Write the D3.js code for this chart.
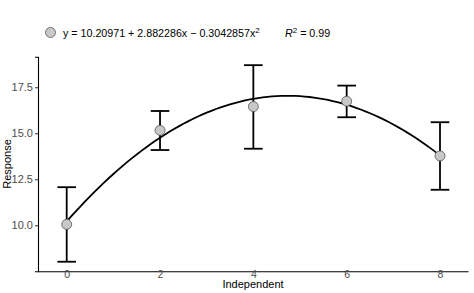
<!DOCTYPE html>
<html><head><meta charset="utf-8">
<script src="https://cdn.jsdelivr.net/npm/d3@7"></script>
<style>body{margin:0;background:#fff}svg{display:block}text{font-family:"Liberation Sans",Arial,sans-serif}</style>
</head><body><svg id="c" width="474" height="293"></svg>
<script>
const xs = [0, 2, 4, 6, 8];
const means = [10.05, 15.16, 16.45, 16.74, 13.77];
const lower = [8.02, 14.09, 14.16, 15.87, 11.93];
const upper = [12.07, 16.21, 18.7, 17.59, 15.6];
const coefs = [10.20971, 2.882286, -0.3042857];
const yTicks = [10.0, 12.5, 15.0, 17.5];
const xTicks = [0, 2, 4, 6, 8];

const svg = d3.select("#c");
const x = d3.scaleLinear().domain([-0.615, 8.6]).range([38, 468]);
const y = d3.scaleLinear().domain([7.5, 19.16]).range([271.3, 56.7]);

// axes
const ya = svg.append("g").attr("transform","translate(38,0)")
  .call(d3.axisLeft(y).tickValues(yTicks).tickFormat(d3.format(".1f")).tickSize(3).tickPadding(2));
const xa = svg.append("g").attr("transform","translate(0,271.3)")
  .call(d3.axisBottom(x).tickValues(xTicks).tickSize(0).tickPadding(-1));
[ya, xa].forEach(g => {
  g.select(".domain").attr("stroke","#000").attr("stroke-width",1.1);
  g.selectAll(".tick line").attr("stroke","#333");
  g.selectAll("text").attr("fill","#4d4d4d").style("font-size","11px").attr("font-family","Liberation Sans, Arial, sans-serif");
});
xa.selectAll(".tick line").remove();
xa.selectAll("text").style("font-size","10.5px");

svg.append("text").attr("x",253).attr("y",288).attr("text-anchor","middle")
  .style("font-size","11px").text("Independent");
svg.append("text").attr("transform","translate(11,164) rotate(-90)").attr("text-anchor","middle")
  .style("font-size","11px").text("Response");

// fitted curve
const grid = d3.range(0, 8.0001, 0.1);
const line = d3.line().x(d => x(d)).y(d => y(coefs[0] + coefs[1]*d + coefs[2]*d*d));
svg.append("path").datum(grid).attr("d", line).attr("fill","none").attr("stroke","#000").attr("stroke-width",1.8);

// error bars
const g = svg.append("g").attr("stroke","#000").attr("stroke-width",1.8);
xs.forEach((v,i) => {
  g.append("line").attr("x1",x(v)).attr("x2",x(v)).attr("y1",y(lower[i])).attr("y2",y(upper[i]));
  g.append("line").attr("x1",x(v)-9.3).attr("x2",x(v)+9.3).attr("y1",y(lower[i])).attr("y2",y(lower[i]));
  g.append("line").attr("x1",x(v)-9.3).attr("x2",x(v)+9.3).attr("y1",y(upper[i])).attr("y2",y(upper[i]));
});
svg.selectAll("circle.pt").data(xs).enter().append("circle")
  .attr("cx", d => x(d)).attr("cy", (d,i) => y(means[i])).attr("r",5)
  .attr("fill","#c8c8c8").attr("stroke","#555").attr("stroke-width",0.8);

// legend
svg.append("circle").attr("cx",50.5).attr("cy",32.5).attr("r",5).attr("fill","#c8c8c8").attr("stroke","#555").attr("stroke-width",0.8);
const t = svg.append("text").attr("x",63).attr("y",37).style("font-size","10.7px").attr("fill","#000");
t.append("tspan").text("y = 10.20971 + 2.882286x \u2212 0.3042857x");
t.append("tspan").attr("dy",-4.5).style("font-size","8px").text("2");
const t2 = svg.append("text").attr("x",285).attr("y",37).style("font-size","10.7px");
t2.append("tspan").style("font-style","italic").text("R");
t2.append("tspan").attr("dy",-4.5).style("font-size","8px").text("2");
t2.append("tspan").attr("dy",4.5).text(" = 0.99");
</script></body></html>
